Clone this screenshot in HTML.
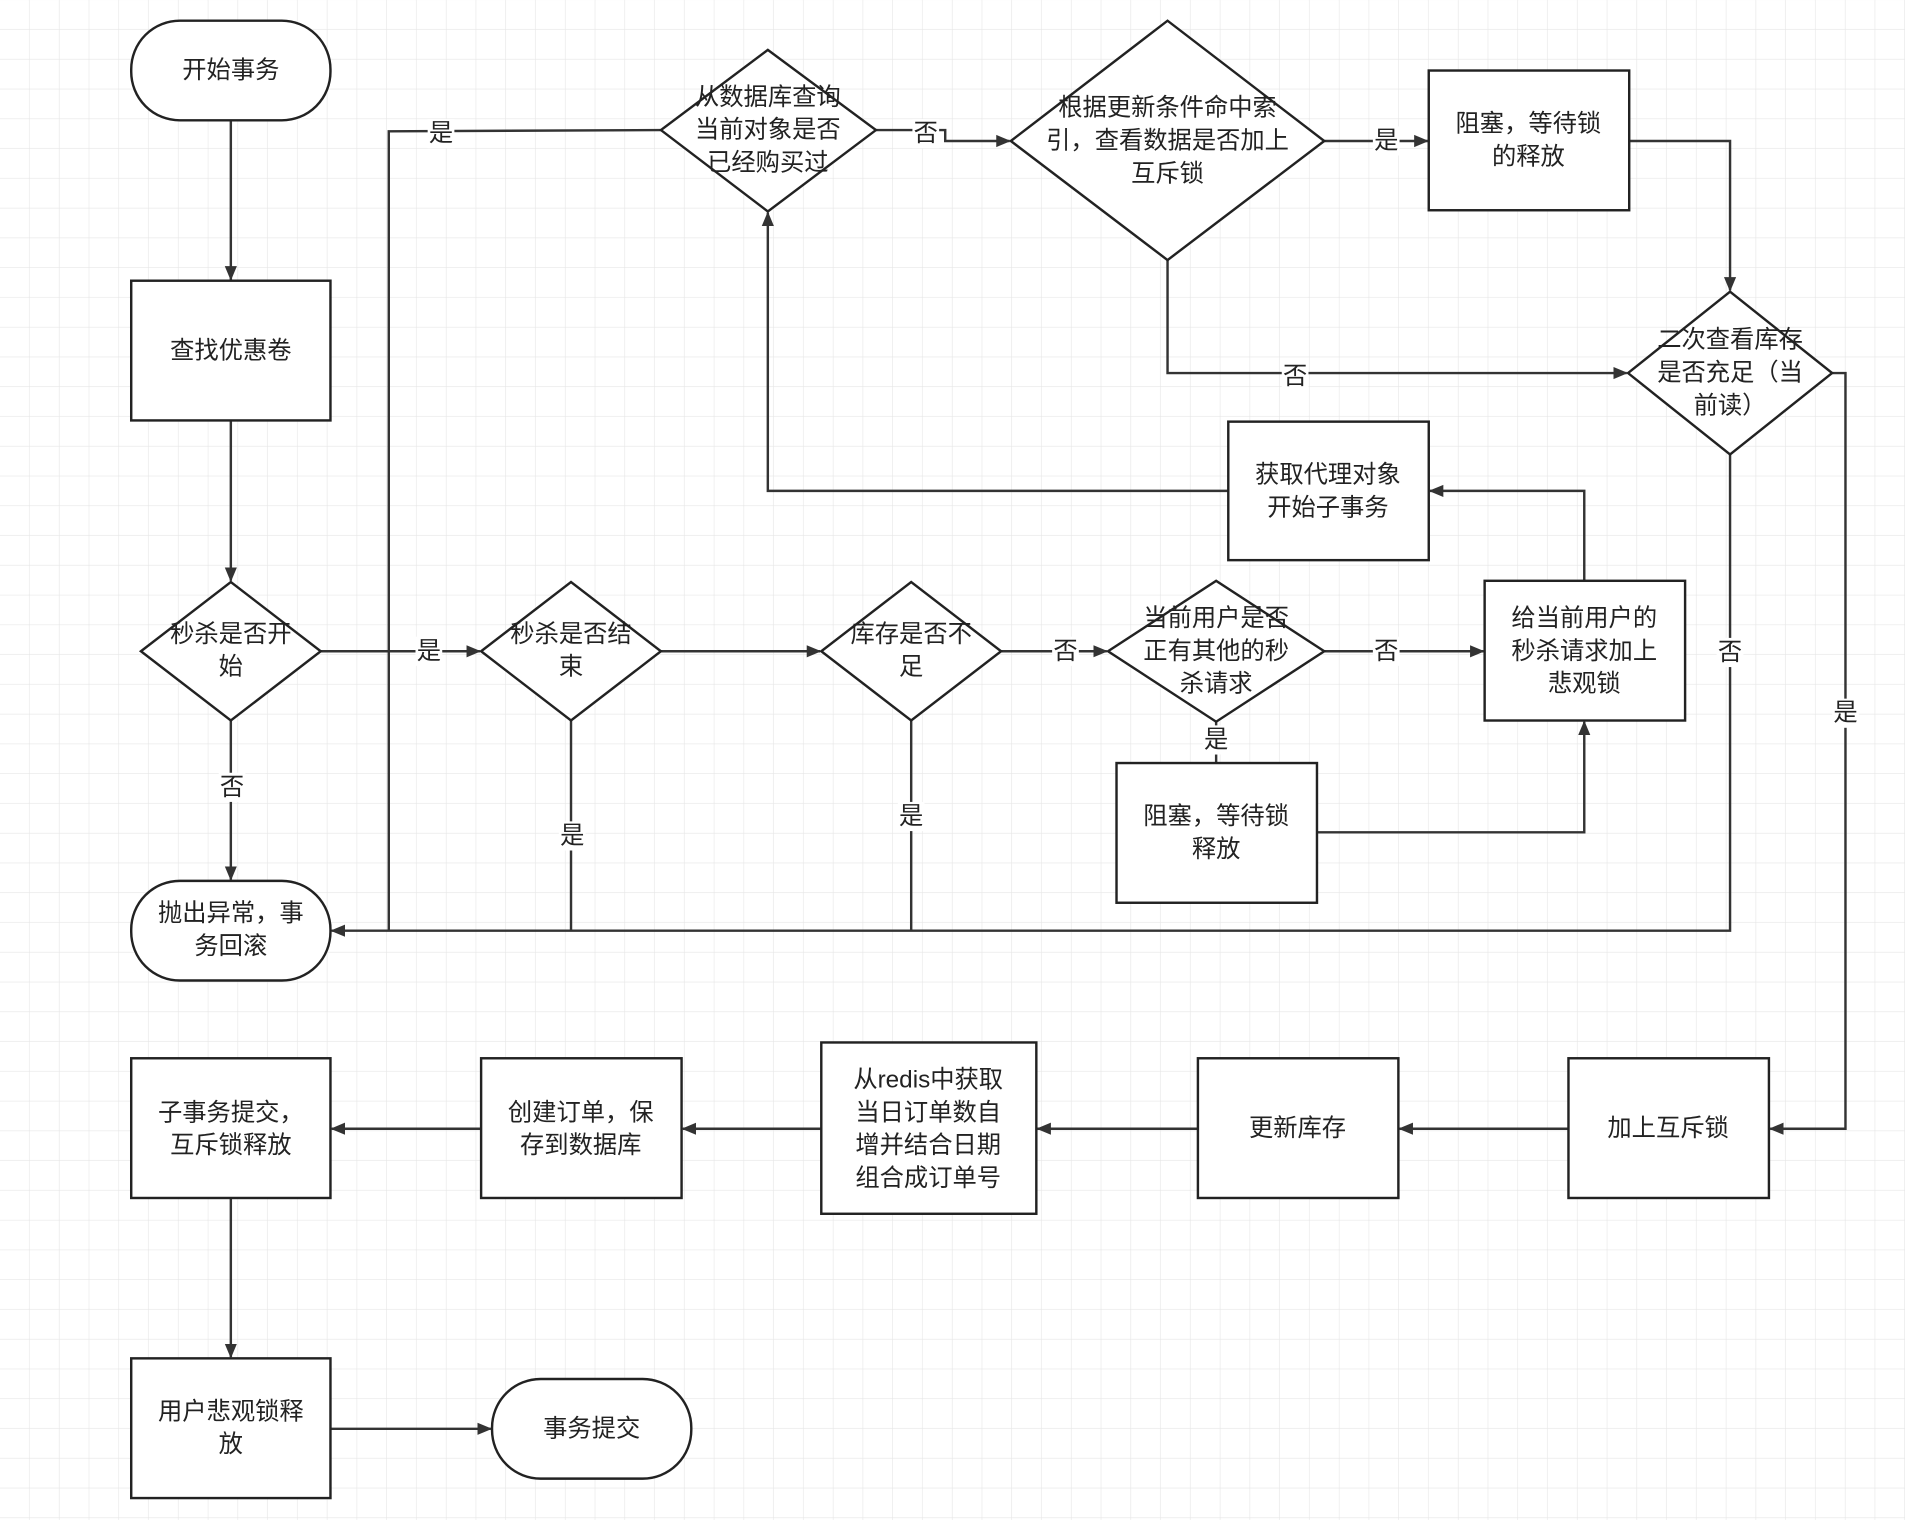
<!DOCTYPE html>
<html><head><meta charset="utf-8"><style>
html,body{margin:0;padding:0;background:#fff;}
svg{display:block;}
text{font-family:"Liberation Sans","Noto Sans CJK SC",sans-serif;font-size:20px;fill:#222;text-anchor:middle;dominant-baseline:central;}
</style></head><body>
<svg width="1905" height="1520" viewBox="0 0 1568 1251" xmlns="http://www.w3.org/2000/svg">
<defs>
<pattern id="g" width="24.5" height="24.5" patternUnits="userSpaceOnUse">
<path d="M24.5 0V24.5H0" fill="none" stroke="#e6e6e6" stroke-width="1"/>
</pattern>
<marker id="a" markerWidth="12" markerHeight="12" refX="11" refY="6" orient="auto" markerUnits="userSpaceOnUse">
<path d="M0,1 L12,6 L0,11 Z" fill="#333"/>
</marker>
</defs>
<rect width="1568" height="1251" fill="url(#g)"/>
<g fill="none" stroke="#333" stroke-width="2">
<line x1="190" y1="99" x2="190" y2="230" marker-end="url(#a)"/>
<line x1="190" y1="346" x2="190" y2="478" marker-end="url(#a)"/>
<line x1="190" y1="593" x2="190" y2="724" marker-end="url(#a)"/>
<line x1="264" y1="536" x2="395" y2="536" marker-end="url(#a)"/>
<line x1="544" y1="536" x2="675" y2="536" marker-end="url(#a)"/>
<line x1="824" y1="536" x2="911" y2="536" marker-end="url(#a)"/>
<line x1="1090" y1="536" x2="1221" y2="536" marker-end="url(#a)"/>
<line x1="1001" y1="594" x2="1001" y2="628"/>
<polyline points="1084,685 1304,685 1304,594" marker-end="url(#a)"/>
<polyline points="1304,478 1304,404 1177,404" marker-end="url(#a)"/>
<polyline points="1011,404 632,404 632,175" marker-end="url(#a)"/>
<polyline points="544,107 320,108 320,766"/>
<polyline points="1424,374 1424,766 273,766" marker-end="url(#a)"/>
<line x1="470" y1="593" x2="470" y2="766"/>
<line x1="750" y1="593" x2="750" y2="766"/>
<polyline points="721,107 778,107 778,116 831,116" marker-end="url(#a)"/>
<line x1="1090" y1="116" x2="1175" y2="116" marker-end="url(#a)"/>
<polyline points="1341,116 1424,116 1424,239" marker-end="url(#a)"/>
<polyline points="961,214 961,307 1339,307" marker-end="url(#a)"/>
<polyline points="1508,307 1519,307 1519,929 1457,929" marker-end="url(#a)"/>
<line x1="1291" y1="929" x2="1152" y2="929" marker-end="url(#a)"/>
<line x1="986" y1="929" x2="854" y2="929" marker-end="url(#a)"/>
<line x1="676" y1="929" x2="562" y2="929" marker-end="url(#a)"/>
<line x1="396" y1="929" x2="273" y2="929" marker-end="url(#a)"/>
<line x1="190" y1="986" x2="190" y2="1117" marker-end="url(#a)"/>
<line x1="272" y1="1176" x2="404" y2="1176" marker-end="url(#a)"/>
</g>
<g fill="#fff" stroke="#222" stroke-width="2">
<rect x="108" y="17" width="164" height="82" rx="40"/>
<rect x="108" y="231" width="164" height="115"/>
<polygon points="116,536 190,479 264,536 190,593"/>
<rect x="108" y="725" width="164" height="82" rx="40"/>
<polygon points="396,536 470,479 544,536 470,593"/>
<polygon points="676,536 750,479 824,536 750,593"/>
<polygon points="912,536 1001,478 1090,536 1001,594"/>
<rect x="1222" y="478" width="165" height="115"/>
<rect x="919" y="628" width="165" height="115"/>
<rect x="1011" y="347" width="165" height="114"/>
<polygon points="544,107 632,41 721,107 632,174"/>
<polygon points="832,116 961,17 1090,116 961,214"/>
<rect x="1176" y="58" width="165" height="115"/>
<polygon points="1340,307 1424,240 1508,307 1424,374"/>
<rect x="1291" y="871" width="165" height="115"/>
<rect x="986" y="871" width="165" height="115"/>
<rect x="676" y="858" width="177" height="141"/>
<rect x="396" y="871" width="165" height="115"/>
<rect x="108" y="871" width="164" height="115"/>
<rect x="108" y="1118" width="164" height="115"/>
<rect x="405" y="1135" width="164" height="82" rx="40"/>
</g>
<g fill="#fff">
<rect x="180" y="636" width="22" height="24"/>
<rect x="342" y="524" width="22" height="24"/>
<rect x="866" y="524" width="22" height="24"/>
<rect x="1130" y="524" width="22" height="24"/>
<rect x="990" y="597" width="22" height="24"/>
<rect x="352" y="98" width="22" height="24"/>
<rect x="1413" y="525" width="22" height="24"/>
<rect x="460" y="676" width="22" height="24"/>
<rect x="739" y="660" width="22" height="24"/>
<rect x="751" y="98" width="22" height="24"/>
<rect x="1130" y="104" width="22" height="24"/>
<rect x="1055" y="298" width="22" height="24"/>
<rect x="1508" y="575" width="22" height="24"/>
</g>
<text x="191" y="648">否</text>
<text x="353" y="536">是</text>
<text x="877" y="536">否</text>
<text x="1141" y="536">否</text>
<text x="1001" y="609">是</text>
<text x="363" y="110">是</text>
<text x="1424" y="537">否</text>
<text x="471" y="688">是</text>
<text x="750" y="672">是</text>
<text x="762" y="110">否</text>
<text x="1141" y="116">是</text>
<text x="1066" y="310">否</text>
<text x="1519" y="587">是</text>

<text x="190" y="58">开始事务</text>
<text x="190" y="289">查找优惠卷</text>
<text x="190" y="522">秒杀是否开</text><text x="190" y="549">始</text>
<text x="190" y="752">抛出异常，事</text><text x="190" y="779">务回滚</text>
<text x="470" y="522">秒杀是否结</text><text x="470" y="549">束</text>
<text x="750" y="522">库存是否不</text><text x="750" y="549">足</text>
<text x="1001" y="509">当前用户是否</text><text x="1001" y="536">正有其他的秒</text><text x="1001" y="563">杀请求</text>
<text x="1304" y="509">给当前用户的</text><text x="1304" y="536">秒杀请求加上</text><text x="1304" y="563">悲观锁</text>
<text x="1001" y="672">阻塞，等待锁</text><text x="1001" y="699">释放</text>
<text x="1093" y="391">获取代理对象</text><text x="1093" y="418">开始子事务</text>
<text x="632" y="80">从数据库查询</text><text x="632" y="107">当前对象是否</text><text x="632" y="134">已经购买过</text>
<text x="961" y="89">根据更新条件命中索</text><text x="961" y="116">引，查看数据是否加上</text><text x="961" y="143">互斥锁</text>
<text x="1258" y="102">阻塞，等待锁</text><text x="1258" y="129">的释放</text>
<text x="1424" y="280">二次查看库存</text><text x="1424" y="307">是否充足（当</text><text x="1424" y="334">前读）</text>
<text x="1373" y="929">加上互斥锁</text>
<text x="1068" y="929">更新库存</text>
<text x="764" y="889">从redis中获取</text><text x="764" y="916">当日订单数自</text><text x="764" y="943">增并结合日期</text><text x="764" y="970">组合成订单号</text>
<text x="478" y="916">创建订单，保</text><text x="478" y="943">存到数据库</text>
<text x="190" y="916">子事务提交，</text><text x="190" y="943">互斥锁释放</text>
<text x="190" y="1162">用户悲观锁释</text><text x="190" y="1189">放</text>
<text x="487" y="1176">事务提交</text>
</svg>
</body></html>
